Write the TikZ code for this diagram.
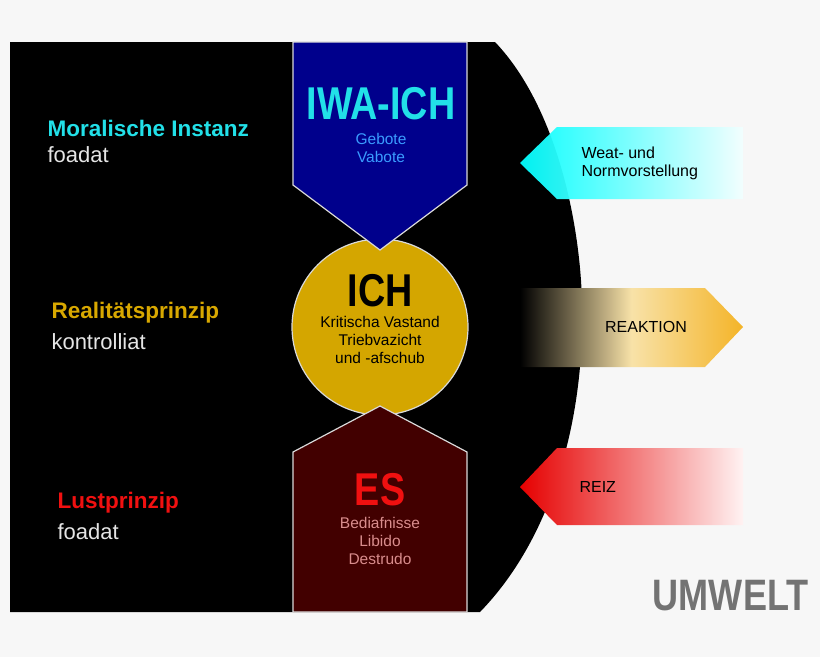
\documentclass[tikz,border=0pt]{standalone}
\usepackage{fontspec}
\setmainfont{Liberation Sans}
\usepackage{tikz}
\usetikzlibrary{positioning,fadings}

\definecolor{bg}{HTML}{F7F7F7}
\definecolor{iwablue}{HTML}{00008C}
\definecolor{ichgold}{HTML}{D4A600}
\definecolor{esred}{HTML}{420000}
\definecolor{cyantxt}{HTML}{22E0E8}
\definecolor{goldtxt}{HTML}{D8A800}
\definecolor{redtxt}{HTML}{F01010}
\definecolor{paleyel}{HTML}{F8E2A8}
\definecolor{orng}{HTML}{F4B428}
\definecolor{iwasubc}{HTML}{3A9CFF}

\newcommand{\narrow}[1]{\scalebox{0.82}[1]{#1}}

\tikzset{
  part/.style={draw=white!85!black, line width=1.2pt},
  side/.style={anchor=west, font=\fontsize{22.5}{24}\selectfont\bfseries},
  sub/.style={anchor=west, text=white!90!black, font=\fontsize{22}{24}\selectfont},
  small/.style={align=center, font=\fontsize{15.5}{18}\selectfont},
  big/.style={font=\fontsize{46}{48}\selectfont\bfseries}
}

\begin{document}
\begin{tikzpicture}[x=1pt,y=-1pt]
  \fill[bg] (0,0) rectangle (820,657);
  \useasboundingbox (0,0) rectangle (820,657);

  % black body
  \fill[black] (10,42) -- (495,42) .. controls (560,110) and (585,240) .. (582,330)
    .. controls (580,430) and (550,540) .. (480,612) -- (10,612) -- cycle;

  % ICH circle and the two shapes
  \fill[ichgold, part] (380,327) circle (88);
  \fill[iwablue, part] (293,42) -- (467,42) -- (467,185) -- (380,250) -- (293,185) -- cycle;
  \fill[esred, part] (293,612) -- (293,452) -- (380,406) -- (467,452) -- (467,612) -- cycle;

  \node[big, text=cyantxt] (iwa) at (381,104) {\narrow{IWA-ICH}};
  \node[small, text=iwasubc, below=6pt of iwa] (iwasub) {Gebote\\Vabote};
  \node[big, text=black] (ich) at (380,291) {\narrow{ICH}};
  \node[small, text=black, below=2pt of ich] (ichsub) {Kritischa Vastand\\Triebvazicht\\und -afschub};
  \node[big, text=redtxt] (es) at (380,490) {\narrow{ES}};
  \node[small, text=red!35!white!85!black, below=4pt of es] (essub) {Bediafnisse\\Libido\\Destrudo};

  % side labels
  \node[side, text=cyantxt] (moral) at (44,128) {Moralische Instanz};
  \node[sub, below=3pt of moral.south west, anchor=north west] (moralsub) {foadat};
  \node[side, text=goldtxt] (real) at (48,313) {Realitätsprinzip};
  \node[sub, below=3pt of real.south west, anchor=north west] (realsub) {kontrolliat};
  \node[side, text=redtxt] (lust) at (54,503) {Lustprinzip};
  \node[sub, below=3pt of lust.south west, anchor=north west] (lustsub) {foadat};

  % arrows from and to the outside
  \shade[left color=cyan, right color=cyan!5!white, opacity=0.95]
    (520,163) -- (557,127) -- (743,127) -- (743,199) -- (557,199) -- cycle;
  \shade[left color=black, right color=orng, middle color=paleyel]
    (520,288) -- (705,288) -- (743,327) -- (705,367) -- (520,367) -- cycle;
  \shade[left color=red!90!black, right color=red!5!white]
    (520,487) -- (557,448) -- (743,448) -- (743,525) -- (557,525) -- cycle;

  \node[anchor=west, align=left, font=\fontsize{16}{18}\selectfont] (norm) at (578,163) {Weat- und\\Normvorstellung};
  \node[font=\fontsize{16}{18}\selectfont] (reak) at (646,327) {REAKTION};
  \node[anchor=west, font=\fontsize{16}{18}\selectfont] (reiz) at (576,487) {REIZ};

  \node[anchor=east, text=black!55, font=\fontsize{44}{46}\selectfont\bfseries] (umwelt) at (812,596) {\narrow{UMWELT}};
\end{tikzpicture}
\end{document}
